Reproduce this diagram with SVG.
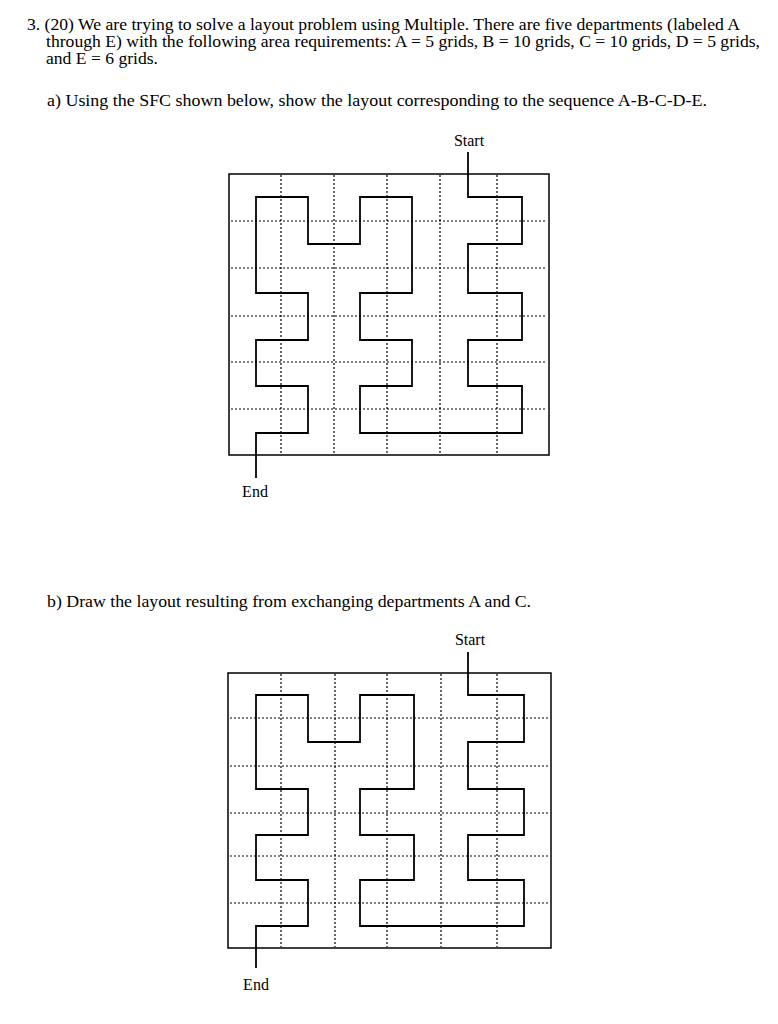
<svg xmlns="http://www.w3.org/2000/svg" width="778" height="1024" viewBox="0 0 778 1024">
<style>
text{font-family:"Liberation Serif","Times New Roman",serif;font-size:16px;fill:#000}
.box{fill:none;stroke:#000;stroke-width:1.5}
.dot{fill:none;stroke:#000;stroke-width:1.2;stroke-dasharray:2 2}
.sfc{fill:none;stroke:#000;stroke-width:1.8}
</style>
<rect width="778" height="1024" fill="#fff"/>
<text x="27" y="30" textLength="713" lengthAdjust="spacingAndGlyphs">3.  (20) We are trying to solve a layout problem using Multiple. There are five departments (labeled A</text>
<text x="46" y="47" textLength="714" lengthAdjust="spacingAndGlyphs">through E) with the following area requirements: A = 5 grids, B = 10 grids, C = 10 grids, D = 5 grids,</text>
<text x="46" y="64" textLength="112" lengthAdjust="spacingAndGlyphs">and E = 6 grids.</text>
<text x="47" y="106" textLength="660" lengthAdjust="spacingAndGlyphs">a)  Using the SFC shown below, show the layout corresponding to the sequence A-B-C-D-E.</text>
<text x="47" y="607" textLength="484" lengthAdjust="spacingAndGlyphs">b)  Draw the layout resulting from exchanging departments A and C.</text>
<g id="gridA">
<rect class="box" x="229" y="174" width="320" height="281"/>
<path class="dot" d="M281,175V454M334,175V454M387,175V454M440,175V454M497,175V454M231,221H547M231,268H547M231,316H547M231,362H547M231,409H547"/>
<text x="469" y="146" text-anchor="middle">Start</text>
<text x="255" y="497" text-anchor="middle">End</text>
</g>
<g id="gridB">
<rect class="box" x="228" y="673" width="323" height="275"/>
<path class="dot" d="M281,674V947M335,674V947M387,674V947M441,674V947M497,674V947M230,718H549M230,766H549M230,813H549M230,856H549M230,903H549"/>
<text x="470" y="645" text-anchor="middle">Start</text>
<text x="256" y="990" text-anchor="middle">End</text>
</g>
<g id="connectors">
<path class="sfc" d="M468,152 V197 H522 V244 H468 V293 H522 V340 H468 V386 H522 V433 H360 V386 H412 V340 H360 V293 H412 V197 H360 V244 H308 V197 H256 V293 H308 V340 H256 V386 H308 V433 H256 V478"/>
<path class="sfc" d="M468,652 V695 H524 V742 H468 V789 H524 V835 H468 V880 H524 V926 H360 V880 H414 V835 H360 V789 H414 V695 H360 V742 H308 V695 H256 V789 H308 V835 H256 V880 H308 V926 H256 V968"/>
</g>
</svg>
